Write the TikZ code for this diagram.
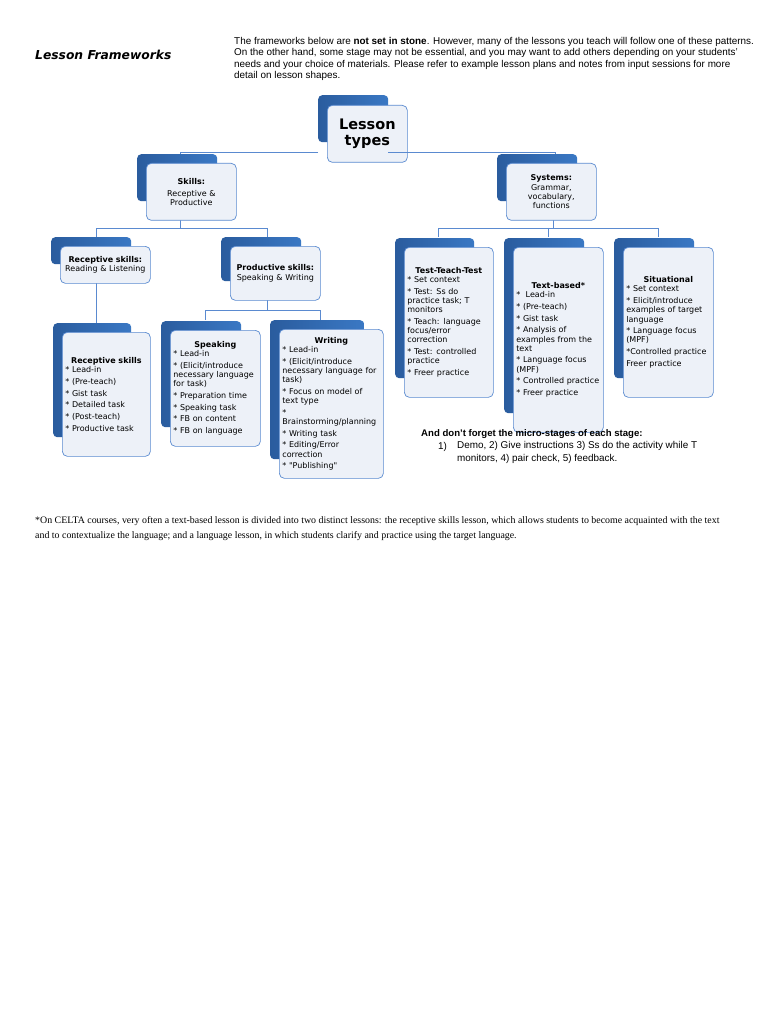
\documentclass[tikz,border=0pt]{standalone}
\usepackage{fontspec}
\setmainfont{Liberation Sans}
\newfontfamily\verd{DejaVu Sans}
\newfontfamily\serf{Liberation Serif}
\definecolor{bblue}{HTML}{3A78C4}
\definecolor{dblue}{HTML}{2A5C9E}
\definecolor{pale}{HTML}{EDF1F8}
\definecolor{edge}{HTML}{5A8AD0}
\tikzset{
  backbox/.style={rounded corners=4pt, left color=dblue, right color=bblue, anchor=north west, inner sep=0},
  frontbox/.style={rounded corners=5pt, draw=edge, line width=0.7pt, fill=pale, anchor=north west, inner sep=0},
  txt/.style={font=\verd\fontsize{8}{9.2}\selectfont, align=left, anchor=center, inner sep=0},
  conn/.style={draw=edge, line width=0.8pt}
}
\newcommand{\lbox}[7]{%
  \node[backbox, minimum width=#4-#2-10pt, minimum height=#5-#3-10pt] (#1b) at (#2-9pt,-#3+9pt) {};
  \node[frontbox, minimum width=#4-#2, minimum height=#5-#3] (#1) at (#2,-#3) {};
  \node[txt, text width=#4-#2-6pt] (#1t) at (#1.center) {{\centering #6\par}\raggedright #7\par};
}
\begin{document}
\begin{tikzpicture}[x=1pt,y=1pt]
\useasboundingbox[fill=white] (0,0) rectangle (768,-1024);
\node[anchor=west, inner sep=0, font=\verd\bfseries\itshape\fontsize{12.3}{14}\selectfont] (title) at (35,-55) {Lesson Frameworks};
\node[anchor=north west, align=left, inner sep=0, font=\fontsize{9.9}{11.4}\selectfont] (intro) at (234,-37) {The frameworks below are \textbf{not set in stone}. However, many of the lessons you teach will follow one of these patterns.\\ On the other hand, some stage may not be essential, and you may want to add others depending on your students'\\ needs and your choice of materials. Please refer to example lesson plans and notes from input sessions for more\\ detail on lesson shapes.};

\coordinate (c1) at (180,-152); \coordinate (c2) at (555,-152);
\node[backbox, minimum width=70pt, minimum height=47pt] (ltb) at (318,-95) {};
\node[frontbox, minimum width=80pt, minimum height=57pt, align=center, font=\verd\bfseries\fontsize{14.5}{16.5}\selectfont] (lt) at (327,-105) {Lesson\\types};
\draw[conn] (ltb.west |- c1) -- (c1) -- (180,-154);
\draw[conn] (ltb.east |- c2) -- (c2) -- (555,-154);
\draw[conn] (180,-220) -- (180,-228) -- (96,-228) -- (96,-237);
\draw[conn] (180,-228) -- (267,-228) -- (267,-237);
\draw[conn] (96,-283) -- (96,-323);
\draw[conn] (267,-300) -- (267,-310) -- (205,-310) -- (205,-320);
\draw[conn] (267,-310) -- (320,-310) -- (320,-320);
\draw[conn] (553,-220) -- (553,-228) -- (438,-228) -- (438,-237);
\draw[conn] (553,-228) -- (658,-228) -- (658,-237);
\draw[conn] (548,-228) -- (548,-237);

\lbox{sk}{146}{163}{236}{220}{\textbf{Skills:}\\[3pt] Receptive \&\\ Productive}{}
\lbox{sy}{506}{163}{596}{220}{\textbf{Systems:}\\ Grammar,\\ vocabulary,\\ functions}{}
\lbox{rs}{60}{246}{150}{283}{\textbf{Receptive skills:}\\ Reading \& Listening}{}
\lbox{ps}{230}{246}{320}{300}{\textbf{Productive skills:}\\ Speaking \& Writing}{}
\lbox{rb}{62}{332}{150}{456}{\textbf{Receptive skills}}{* Lead-in\\[2.5pt] * (Pre-teach)\\[2.5pt] * Gist task\\[2.5pt] * Detailed task\\[2.5pt] * (Post-teach)\\[2.5pt] * Productive task}
\lbox{sp}{170}{330}{260}{446}{\textbf{Speaking}}{* Lead-in\\[2.5pt] * (Elicit/introduce necessary language for task)\\[2.5pt] * Preparation time\\[2.5pt] * Speaking task\\[2.5pt] * FB on content\\[2.5pt] * FB on language}
\lbox{wr}{279}{329}{383}{478}{\textbf{Writing}}{* Lead-in\\[2.5pt] * (Elicit/introduce necessary language for task)\\[2.5pt] * Focus on model of text type\\[2.5pt] *\\ Brainstorming/planning\\[2.5pt] * Writing task\\[2.5pt] * Editing/Error correction\\[2.5pt] * "Publishing"}
\lbox{ttt}{404}{247}{493}{397}{\textbf{Test-Teach-Test}}{* Set context\\[2.5pt] * Test: Ss do practice task; T monitors\\[2.5pt] * Teach: language focus/error correction\\[2.5pt] * Test: controlled practice\\[2.5pt] * Freer practice}
\lbox{tb}{513}{247}{603}{432}{\textbf{Text-based*}}{*\ \ Lead-in\\[2.5pt] * (Pre-teach)\\[2.5pt] * Gist task\\[2.5pt] * Analysis of examples from the text\\[2.5pt] * Language focus (MPF)\\[2.5pt] * Controlled practice\\[2.5pt] * Freer practice}
\lbox{si}{623}{247}{713}{397}{\textbf{Situational}}{* Set context\\[2.5pt] * Elicit/introduce examples of target language\\[2.5pt] * Language focus (MPF)\\[2.5pt] *Controlled practice\\[2.5pt] Freer practice}

\node[anchor=west, font=\bfseries\fontsize{9.6}{10}\selectfont, inner sep=0] (mic) at (421,-434) {And don't forget the micro-stages of each stage:};
\node[anchor=west, font=\fontsize{9.9}{10}\selectfont, inner sep=0] (n1) at (438,-447) {1)};
\node[anchor=north west, align=left, font=\fontsize{9.9}{13}\selectfont, inner sep=0] (demo) at (457,-441) {Demo, 2) Give instructions 3) Ss do the activity while T\\ monitors, 4) pair check, 5) feedback.};

\node[anchor=north west, align=left, inner sep=0, font=\serf\fontsize{9.9}{15}\selectfont] (foot) at (35,-516) {*On CELTA courses, very often a text-based lesson is divided into two distinct lessons: the receptive skills lesson, which allows students to become acquainted with the text\\ and to contextualize the language; and a language lesson, in which students clarify and practice using the target language.};
\end{tikzpicture}
\end{document}
